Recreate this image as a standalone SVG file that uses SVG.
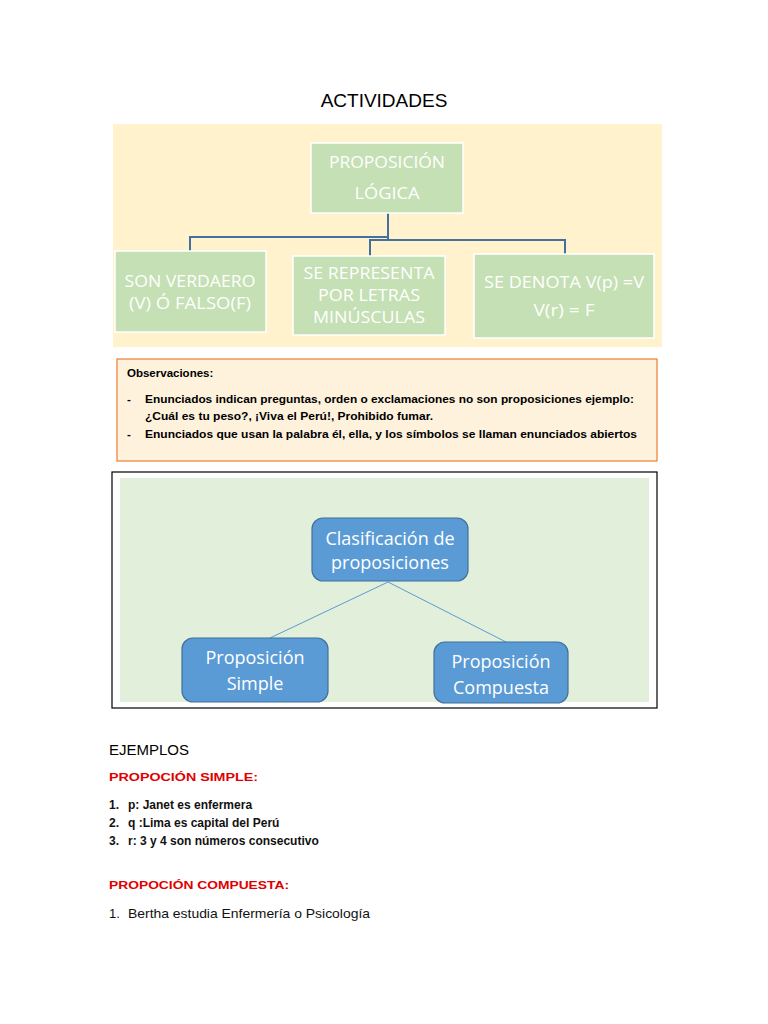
<svg xmlns="http://www.w3.org/2000/svg" width="768" height="1024" viewBox="0 0 768 1024">
<style>
.wt{font-family:"Open Sans","Liberation Sans",sans-serif;fill:#fff;text-anchor:middle}
.gt{font-size:16px}
.gb{fill:#C5E0B4;stroke:#fff;stroke-width:1.5}
.bb{fill:#5B9BD5;stroke:#41719C;stroke-width:1.2}
.ob{font-family:"Liberation Sans",Arial,sans-serif;font-weight:bold;font-size:11.5px;fill:#000}
.red{font-family:"Liberation Sans",Arial,sans-serif;font-weight:bold;font-size:11.5px;fill:#E00000}
.li{font-family:"Liberation Sans",Arial,sans-serif;font-weight:bold;font-size:12px;fill:#111}
</style>
<rect width="768" height="1024" fill="#fff"/>
<text x="384" y="107" font-family="Liberation Sans,Arial,sans-serif" font-size="19" text-anchor="middle" fill="#000">ACTIVIDADES</text>
<rect x="113" y="124" width="549" height="223" fill="#FFF2CC"/>
<g id="connectors1" fill="none" stroke="#41719C" stroke-width="2">
<path d="M388 213V237H190V251"/>
<path d="M388 237V240H370V256"/>
<path d="M370 240H565V254"/>
</g>
<g id="n-logica"><rect class="gb" x="311" y="143" width="152" height="70"/>
<text class="wt gt" x="387" y="168" textLength="116" lengthAdjust="spacingAndGlyphs">PROPOSICIÓN</text>
<text class="wt gt" x="387" y="199" textLength="65" lengthAdjust="spacingAndGlyphs">LÓGICA</text></g>
<g id="n-verdadero"><rect class="gb" x="115" y="251" width="151" height="81"/>
<text class="wt gt" x="190" y="287" textLength="131" lengthAdjust="spacingAndGlyphs">SON VERDAERO</text>
<text class="wt gt" x="190" y="309" textLength="122" lengthAdjust="spacingAndGlyphs">(V) Ó FALSO(F)</text></g>
<g id="n-representa"><rect class="gb" x="293" y="256" width="152" height="79"/>
<text class="wt gt" x="369" y="279" textLength="131" lengthAdjust="spacingAndGlyphs">SE REPRESENTA</text>
<text class="wt gt" x="369" y="301" textLength="102" lengthAdjust="spacingAndGlyphs">POR LETRAS</text>
<text class="wt gt" x="369" y="323" textLength="112" lengthAdjust="spacingAndGlyphs">MINÚSCULAS</text></g>
<g id="n-denota"><rect class="gb" x="474" y="254" width="180" height="84"/>
<text class="wt gt" x="564" y="288" textLength="160" lengthAdjust="spacingAndGlyphs">SE DENOTA V(p) =V</text>
<text class="wt gt" x="564" y="316" textLength="61" lengthAdjust="spacingAndGlyphs">V(r) = F</text></g>
<g id="observaciones">
<rect x="117" y="359" width="540" height="102" fill="#FEF2DD" stroke="#ED7D31" stroke-width="1.2"/>
<text class="ob" x="127" y="377">Observaciones:</text>
<text class="ob" x="127" y="403">-</text>
<text class="ob" x="145" y="403" textLength="489" lengthAdjust="spacingAndGlyphs">Enunciados indican preguntas, orden o exclamaciones no son proposiciones ejemplo:</text>
<text class="ob" x="145" y="420" textLength="288" lengthAdjust="spacingAndGlyphs">¿Cuál es tu peso?, ¡Viva el Perú!, Prohibido fumar.</text>
<text class="ob" x="127" y="438">-</text>
<text class="ob" x="145" y="438" textLength="492" lengthAdjust="spacingAndGlyphs">Enunciados que usan la palabra él,  ella,  y los símbolos se llaman enunciados abiertos</text>
</g>
<rect x="112" y="472" width="545" height="236" fill="#fff" stroke="#000" stroke-width="1.2"/>
<rect x="120" y="478" width="529" height="224" fill="#E2EFDA"/>
<g id="connectors2" stroke="#5B9BD5" stroke-width="1">
<line x1="388" y1="582" x2="270" y2="638"/>
<line x1="388" y1="582" x2="506" y2="642"/>
</g>
<g id="n-clasificacion"><rect class="bb" x="312" y="518" width="156" height="63" rx="11"/>
<text class="wt" x="390" y="545" font-size="18">Clasificación de</text>
<text class="wt" x="390" y="569" font-size="18">proposiciones</text></g>
<g id="n-simple"><rect class="bb" x="182" y="638" width="146" height="64" rx="11"/>
<text class="wt" x="255" y="664" font-size="18">Proposición</text>
<text class="wt" x="255" y="690" font-size="18">Simple</text></g>
<g id="n-compuesta"><rect class="bb" x="434" y="642" width="134" height="61" rx="11"/>
<text class="wt" x="501" y="668" font-size="18">Proposición</text>
<text class="wt" x="501" y="694" font-size="18">Compuesta</text></g>
<text x="109" y="755" font-family="Liberation Sans,Arial,sans-serif" font-size="15" fill="#000">EJEMPLOS</text>
<text class="red" x="109" y="781" textLength="149" lengthAdjust="spacingAndGlyphs">PROPOCIÓN SIMPLE:</text>
<text class="li" x="109" y="809">1.</text><text class="li" x="128" y="809">p: Janet es enfermera</text>
<text class="li" x="109" y="827">2.</text><text class="li" x="128" y="827">q :Lima es capital del Perú</text>
<text class="li" x="109" y="845">3.</text><text class="li" x="128" y="845">r: 3 y 4 son números consecutivo</text>
<text class="red" x="109" y="889" textLength="180" lengthAdjust="spacingAndGlyphs">PROPOCIÓN COMPUESTA:</text>
<text x="109" y="918" font-family="Liberation Sans,Arial,sans-serif" font-size="13" fill="#111">1.</text>
<text x="128" y="918" font-family="Liberation Sans,Arial,sans-serif" font-size="13" fill="#111" textLength="242" lengthAdjust="spacingAndGlyphs">Bertha estudia Enfermería o Psicología</text>
</svg>
